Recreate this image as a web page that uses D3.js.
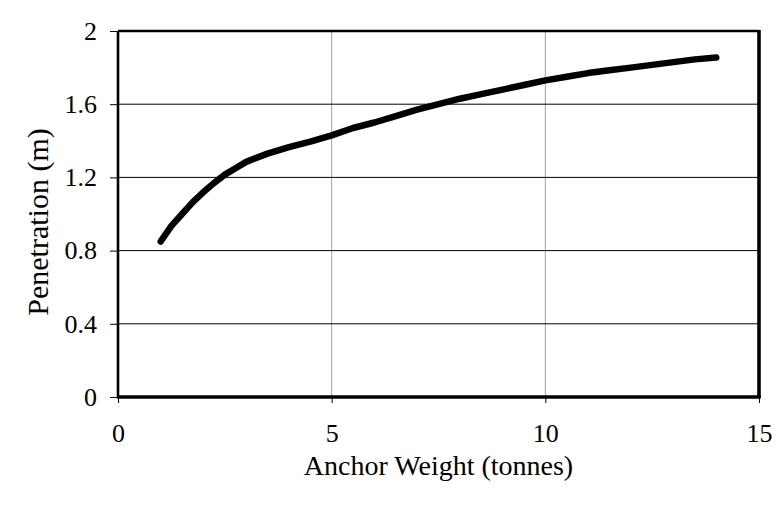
<!DOCTYPE html>
<html>
<head>
<meta charset="utf-8">
<script src="https://cdnjs.cloudflare.com/ajax/libs/d3/7.8.5/d3.min.js"></script>
<style>
  body { margin: 0; background: #fff; }
  text { font-family: "Liberation Serif", "Times New Roman", serif; fill: #000; }
</style>
</head>
<body>
<script>
// anchor weight (tonnes) vs penetration (m)
let weights = [1, 1.25, 1.5, 1.75, 2, 2.25, 2.5, 2.75, 3, 3.5, 4, 4.5, 5, 5.5, 6, 6.5, 7, 7.5, 8, 8.5, 9, 9.5, 10, 10.5, 11, 11.5, 12, 12.5, 13, 13.5, 14];
let penetration = [0.85, 0.935, 1.0, 1.065, 1.12, 1.17, 1.215, 1.25, 1.285, 1.33, 1.365, 1.395, 1.43, 1.47, 1.50, 1.535, 1.57, 1.60, 1.63, 1.655, 1.68, 1.705, 1.73, 1.75, 1.77, 1.785, 1.80, 1.815, 1.83, 1.845, 1.855];
let xTicks = [0, 5, 10, 15];
let yTicks = [0, 0.4, 0.8, 1.2, 1.6, 2];

let w = 779, h = 507;
let padLeft = 118, padRight = 759, padTop = 31, padBottom = 397;

const svg = d3.select("body").append("svg")
    .attr("width", w)
    .attr("height", h);

const xScale = d3.scaleLinear().domain([0, 15]).range([padLeft, padRight]);
const yScale = d3.scaleLinear().domain([0, 2]).range([padBottom, padTop]);

// gridlines
svg.append("g").selectAll("line")
    .data(xTicks.filter(d => d > 0 && d < 15))
    .enter().append("line")
    .attr("x1", d => xScale(d)).attr("x2", d => xScale(d))
    .attr("y1", padTop).attr("y2", padBottom)
    .attr("stroke", "#a0a0a0").attr("stroke-width", 1);

svg.append("g").selectAll("line")
    .data(yTicks.filter(d => d > 0 && d < 2))
    .enter().append("line")
    .attr("x1", padLeft).attr("x2", padRight)
    .attr("y1", d => yScale(d)).attr("y2", d => yScale(d))
    .attr("stroke", "#000").attr("stroke-width", 1);

const xAxis = d3.axisBottom(xScale).tickValues(xTicks).tickSize(6).tickPadding(21).tickFormat(d3.format("d"));
const yAxis = d3.axisLeft(yScale).tickValues(yTicks).tickSize(8).tickPadding(13).tickFormat(d => d);

svg.append("g")
    .attr("transform", "translate(0," + padBottom + ")")
    .call(xAxis)
    .call(g => g.select(".domain").remove())
    .selectAll("text").style("font-size", "26px");

svg.append("g")
    .attr("transform", "translate(" + padLeft + ",0)")
    .call(yAxis)
    .call(g => g.select(".domain").remove())
    .selectAll("text").style("font-size", "26px");

// frame
svg.append("line").attr("x1", padLeft).attr("x2", padRight).attr("y1", padTop).attr("y2", padTop)
    .attr("stroke", "#000").attr("stroke-width", 2.3);
svg.append("line").attr("x1", padLeft).attr("x2", padLeft).attr("y1", padTop).attr("y2", padBottom)
    .attr("stroke", "#000").attr("stroke-width", 2.6);
svg.append("line").attr("x1", padLeft - 1).attr("x2", padRight + 1.8).attr("y1", padBottom).attr("y2", padBottom)
    .attr("stroke", "#000").attr("stroke-width", 3.3);
svg.append("line").attr("x1", padRight).attr("x2", padRight).attr("y1", padTop - 1).attr("y2", padBottom)
    .attr("stroke", "#000").attr("stroke-width", 3.6);

// curve
const line = d3.line()
    .x((d, i) => xScale(weights[i]))
    .y(d => yScale(d));

svg.append("path")
    .datum(penetration)
    .attr("d", line)
    .attr("fill", "none")
    .attr("stroke", "#000")
    .attr("stroke-width", 6.5)
    .attr("stroke-linecap", "round")
    .attr("stroke-linejoin", "round");

// axis titles
svg.append("text")
    .attr("x", (padLeft + padRight) / 2)
    .attr("y", 475)
    .attr("text-anchor", "middle")
    .style("font-size", "28px")
    .text("Anchor Weight (tonnes)");

svg.append("text")
    .attr("transform", "translate(48,222) rotate(-90)")
    .attr("text-anchor", "middle")
    .style("font-size", "30px")
    .text("Penetration (m)");
</script>
</body>
</html>
